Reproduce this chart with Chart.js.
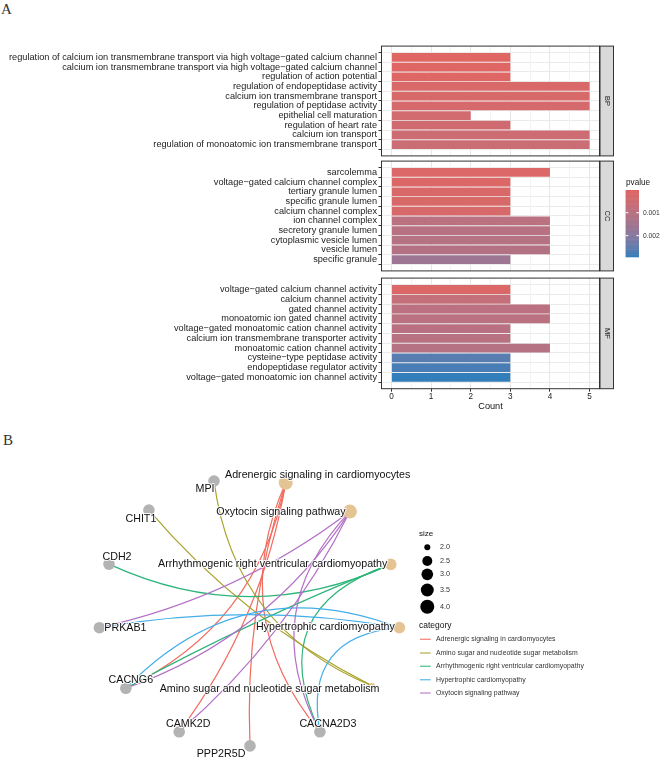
<!DOCTYPE html>
<html><head><meta charset="utf-8">
<script src="https://cdn.jsdelivr.net/npm/chart.js@4.4.1/dist/chart.umd.min.js"></script>
<style>
html,body{margin:0;padding:0;background:#fff;}
body{width:669px;height:760px;position:relative;overflow:hidden;font-family:"Liberation Sans",Arial,sans-serif;}
canvas{position:absolute;left:0;}
.tag{position:absolute;font-family:"Liberation Serif","Times New Roman",serif;font-size:15px;line-height:15px;color:#333;}
</style></head><body>
<div class="tag" style="left:1px;top:2px;">A</div>
<div class="tag" style="left:3px;top:433px;">B</div>
<canvas id="bp" width="669" height="122" style="top:40px"></canvas>
<canvas id="cc" width="669" height="122" style="top:155px"></canvas>
<canvas id="mf" width="669" height="145" style="top:272px"></canvas>
<canvas id="net" width="669" height="330" style="top:430px"></canvas>
<script>
const FONT = '"Liberation Sans", Arial, sans-serif';

// ---------------- Panel A data ----------------
const bpTerms = [
 'regulation of calcium ion transmembrane transport via high voltage\u2212gated calcium channel',
 'calcium ion transmembrane transport via high voltage\u2212gated calcium channel',
 'regulation of action potential',
 'regulation of endopeptidase activity',
 'calcium ion transmembrane transport',
 'regulation of peptidase activity',
 'epithelial cell maturation',
 'regulation of heart rate',
 'calcium ion transport',
 'regulation of monoatomic ion transmembrane transport'];
const bpCount = [3,3,3,5,5,5,2,3,5,5];
const bpPvalue = [0.000013,0.000042,0.000071,0.000187,0.000216,0.000274,0.000419,0.000448,0.000506,0.000593];

const ccTerms = ['sarcolemma','voltage\u2212gated calcium channel complex','tertiary granule lumen','specific granule lumen',
 'calcium channel complex','ion channel complex','secretory granule lumen','cytoplasmic vesicle lumen','vesicle lumen','specific granule'];
const ccCount = [4,3,3,3,3,4,4,4,4,3];
const ccPvalue = [0.000129,0.000158,0.000187,0.000216,0.000245,0.00097,0.001028,0.001086,0.001115,0.001608];

const mfTerms = ['voltage\u2212gated calcium channel activity','calcium channel activity','gated channel activity',
 'monoatomic ion gated channel activity','voltage\u2212gated monoatomic cation channel activity',
 'calcium ion transmembrane transporter activity','monoatomic cation channel activity',
 'cysteine\u2212type peptidase activity','endopeptidase regulator activity','voltage\u2212gated monoatomic ion channel activity'];
const mfCount = [3,3,4,4,3,3,4,3,3,3];
const mfPvalue = [0.000158,0.000738,0.000941,0.00097,0.000999,0.001028,0.001086,0.002623,0.002768,0.002913];

const ontologyLabels = ['BP','CC','MF'];
const countTickLabels = ['0','1','2','3','4','5'];
const countGridValues = [0,0.5,1,1.5,2,2.5,3,3.5,4,4.5,5];
const pvalueLegendTicks = [0.001,0.002];
const pvalueLegendLabels = ['0.001','0.002'];

// ---------------- Panel B data ----------------
const geneNames = ['MPI','CHIT1','CDH2','PRKAB1','CACNG6','CAMK2D','PPP2R5D','CACNA2D3'];
const geneX = [3.80,1.63,0.30,-0.02,0.86,2.64,5.00,7.33];
const geneY = [9.30,8.33,6.53,4.41,2.39,0.94,0.47,0.94];
const categoryNames = ['Adrenergic signaling in cardiomyocytes','Amino sugar and nucleotide sugar metabolism',
 'Arrhythmogenic right ventricular cardiomyopathy','Hypertrophic cardiomyopathy','Oxytocin signaling pathway'];
const categorySize = [4,2,3,3,4];
const categoryX = [6.19,9.07,9.69,9.98,8.33];
const categoryY = [9.24,2.47,6.52,4.41,8.28];
const edgeCategory = [0,0,0,0, 1,1, 2,2,2, 3,3,3, 4,4,4,4];
const edgeGene     = [4,5,6,7, 0,1, 2,4,7, 3,4,7, 4,5,3,7];
const sizeLegendValues = [2.0,2.5,3.0,3.5,4.0];

// ---------------- styles ----------------
const lowColor = '#e06663', highColor = '#327eba';
const categoryColors = ['#F26B5F','#A8A22C','#2DB47A','#43AEE8','#B36FC6'];
const edgeCurvature = [-0.25,-0.12,0.09,0.31, -0.29,-0.10, -0.23,0.03,0.56, 0.087,0.33,0.55, -0.17,-0.10,-0.11,0.36];
const geneLabelDX = [-9,-8,8,26,5,9,-29,8];
const geneLabelDY = [8,9,-7,0,-8,-8,8,-8];
const catLabelDX = [32,-102.5,-118,-74,-69];
const catLabelDY = [-8,3,0,-0.7,0];

// ---------------- colour scale (Lab interpolation) ----------------
function hex2rgb(h){return [1,3,5].map(i=>parseInt(h.substr(i,2),16));}
function s2l(c){c/=255;return c<=0.04045?c/12.92:Math.pow((c+0.055)/1.055,2.4);}
function l2s(c){const v=c<=0.0031308?12.92*c:1.055*Math.pow(c,1/2.4)-0.055;return Math.round(Math.max(0,Math.min(1,v))*255);}
function rgb2lab(rgb){const [r,g,b]=rgb.map(s2l);
 const X=(0.4124564*r+0.3575761*g+0.1804375*b)/0.95047,Y=0.2126729*r+0.7151522*g+0.0721750*b,Z=(0.0193339*r+0.1191920*g+0.9503041*b)/1.08883;
 const f=t=>t>216/24389?Math.cbrt(t):(24389/27*t+16)/116;const fx=f(X),fy=f(Y),fz=f(Z);
 return [116*fy-16,500*(fx-fy),200*(fy-fz)];}
function lab2rgb(lab){const [L,a,b]=lab;const fy=(L+16)/116,fx=fy+a/500,fz=fy-b/200;
 const fi=t=>{const t3=t*t*t;return t3>216/24389?t3:(116*t-16)/(24389/27);};
 const X=fi(fx)*0.95047,Y=fi(fy),Z=fi(fz)*1.08883;
 return [l2s(3.2404542*X-1.5371385*Y-0.4985314*Z),l2s(-0.9692660*X+1.8760108*Y+0.0415560*Z),l2s(0.0556434*X-0.2040259*Y+1.0572252*Z)];}
const allP = bpPvalue.concat(ccPvalue, mfPvalue);
const pMin = Math.min(...allP), pMax = Math.max(...allP);
const labLo = rgb2lab(hex2rgb(lowColor)), labHi = rgb2lab(hex2rgb(highColor));
function pColor(p){const t=Math.max(0,Math.min(1,(p-pMin)/(pMax-pMin)));
 const c=lab2rgb(labLo.map((v,i)=>v+(labHi[i]-v)*t));return `rgb(${c[0]},${c[1]},${c[2]})`;}

// ---------------- facet panel plugin ----------------
function framePlugin(stripText){
 return {id:'frame'+stripText, afterDraw(chart){
  const {ctx, chartArea:a} = chart;
  ctx.save();
  ctx.strokeStyle='#333'; ctx.lineWidth=1;
  ctx.strokeRect(a.left, a.top, a.right-a.left, a.bottom-a.top);
  const sx=a.right+0.5, sw=13.5;
  ctx.fillStyle='#D9D9D9'; ctx.fillRect(sx, a.top, sw, a.bottom-a.top);
  ctx.strokeRect(sx, a.top, sw, a.bottom-a.top);
  ctx.translate(sx+sw/2, (a.top+a.bottom)/2); ctx.rotate(Math.PI/2);
  ctx.fillStyle='#1a1a1a'; ctx.font=`7.5px ${FONT}`; ctx.textAlign='center'; ctx.textBaseline='middle';
  ctx.fillText(stripText,0,0);
  ctx.restore();
 }};
}

const pLegendPlugin = {id:'plegend', afterDraw(chart){
  const ctx=chart.ctx, off=155;
  const bx=625.7, bw=13.3, by=190-off, bh=66.7;
  ctx.save();
  ctx.fillStyle='#1a1a1a'; ctx.font=`8.2px ${FONT}`; ctx.textAlign='left'; ctx.textBaseline='middle';
  ctx.fillText('pvalue', 626, 182.7-off);
  const n=80;
  for(let i=0;i<n;i++){const p=pMin+(pMax-pMin)*(i+0.5)/n; ctx.fillStyle=pColor(p);
    ctx.fillRect(bx, by+bh*i/n, bw, bh/n+0.6);}
  ctx.strokeStyle='#fff'; ctx.lineWidth=1;
  ctx.font=`6.7px ${FONT}`;
  pvalueLegendTicks.forEach((v,i)=>{const yy=by+bh*(v-pMin)/(pMax-pMin);
    ctx.beginPath(); ctx.moveTo(bx,yy); ctx.lineTo(bx+2.7,yy); ctx.moveTo(bx+bw-2.7,yy); ctx.lineTo(bx+bw,yy); ctx.stroke();
    ctx.fillStyle='#333'; ctx.fillText(pvalueLegendLabels[i], 643, yy);});
  ctx.restore();
}};

function panelChart(id, terms, counts, pvals, strip, o, extra){
 return new Chart(document.getElementById(id), {
  type:'bar',
  data:{datasets:[{data:counts.map((c,i)=>({x:c,y:i})), backgroundColor:pvals.map(pColor), borderWidth:0,
     barPercentage:0.9, categoryPercentage:1}]},
  options:{
   indexAxis:'y', responsive:false, animation:false, events:[],
   layout:{autoPadding:false, padding:{left:0,right:669-599.5,top:o.padTop,bottom:o.padBottom}},
   plugins:{legend:{display:false},tooltip:{enabled:false}},
   scales:{
    y:{type:'linear', min:-0.6, max:terms.length-1+0.6, reverse:true,
      afterBuildTicks:s=>{s.ticks=terms.map((_,i)=>({value:i}));},
      afterFit:s=>{s.width=381.5;},
      ticks:{autoSkip:false, callback:v=>terms[v], font:{family:FONT,size:9.2,lineHeight:1}, color:'#222', padding:1.5},
      grid:{color:'#EBEBEB', lineWidth:1, tickColor:'#333', tickLength:3},
      border:{display:false}},
    x:{type:'linear', min:-0.25, max:5.25,
      afterBuildTicks:s=>{s.ticks=countGridValues.map(v=>({value:v}));},
      afterFit:s=>{s.height=o.xHeight;},
      ticks:{display:o.showX, autoSkip:false, maxRotation:0, padding:0,
        callback:v=>Number.isInteger(v)?countTickLabels[v]:'', font:{family:FONT,size:8.2}, color:'#222'},
      grid:{color:c=>Number.isInteger(c.tick&&c.tick.value)?'#E6E6E6':'#F3F3F3',
        tickColor:c=>Number.isInteger(c.tick&&c.tick.value)?'#333':'rgba(0,0,0,0)', tickLength:3, drawTicks:o.showX},
      border:{display:false},
      title:{display:o.showX, text:'Count', font:{family:FONT,size:9.2}, color:'#111', padding:{top:0,bottom:4.8}}}
   }
  },
  plugins:[framePlugin(strip)].concat(extra||[])
 });
}

panelChart('bp', bpTerms, bpCount, bpPvalue, ontologyLabels[0], {padTop:5,padBottom:5.3,xHeight:0,showX:false});
panelChart('cc', ccTerms, ccCount, ccPvalue, ontologyLabels[1], {padTop:5.7,padBottom:4.7,xHeight:0,showX:false},[pLegendPlugin]);
panelChart('mf', mfTerms, mfCount, mfPvalue, ontologyLabels[2], {padTop:5.7,padBottom:0,xHeight:28.3,showX:true});

// ---------------- Panel B: network ----------------
const sMin = Math.min(...categorySize), sMax = Math.max(...categorySize);
const rMin = 3, rMax = 7;
function sizeRadius(s){return rMin + Math.sqrt((s-sMin)/(sMax-sMin))*(rMax-rMin);}

const edgePlugin = {id:'edges', beforeDatasetsDraw(chart){
  const {ctx, scales:{x,y}} = chart;
  ctx.save(); ctx.lineWidth=1.2; ctx.lineCap='round';
  edgeCategory.forEach((c,k)=>{
    const g=edgeGene[k];
    const x0=x.getPixelForValue(categoryX[c]), y0=y.getPixelForValue(categoryY[c]);
    const x1=x.getPixelForValue(geneX[g]), y1=y.getPixelForValue(geneY[g]);
    const dx=x1-x0, dy=y1-y0, cv=edgeCurvature[k];
    const cx=(x0+x1)/2 - cv*dy, cy=(y0+y1)/2 + cv*dx;
    ctx.strokeStyle=categoryColors[c];
    ctx.beginPath(); ctx.moveTo(x0,y0); ctx.quadraticCurveTo(cx,cy,x1,y1); ctx.stroke();
  });
  ctx.restore();
}};

function haloText(ctx, t, x, y){
  ctx.lineWidth=2; ctx.strokeStyle='rgba(255,255,255,0.9)'; ctx.lineJoin='round';
  ctx.strokeText(t,x,y); ctx.fillText(t,x,y);
}

const labelPlugin = {id:'labels', afterDatasetsDraw(chart){
  const {ctx, scales:{x,y}} = chart;
  ctx.save(); ctx.font=`10.7px ${FONT}`; ctx.fillStyle='#111'; ctx.textAlign='center'; ctx.textBaseline='middle';
  geneNames.forEach((n,i)=>haloText(ctx, n, x.getPixelForValue(geneX[i])+geneLabelDX[i], y.getPixelForValue(geneY[i])+geneLabelDY[i]));
  categoryNames.forEach((n,i)=>haloText(ctx, n, x.getPixelForValue(categoryX[i])+catLabelDX[i], y.getPixelForValue(categoryY[i])+catLabelDY[i]));
  ctx.restore();
}};

const netLegendPlugin = {id:'netlegend', afterDraw(chart){
  const ctx=chart.ctx, off=430;
  ctx.save(); ctx.textAlign='left'; ctx.textBaseline='middle'; ctx.fillStyle='#111';
  ctx.font=`8px ${FONT}`; ctx.fillText('size', 419, 533.3-off);
  const sy=[547.3,561,574.3,590,606.7];
  sizeLegendValues.forEach((s,i)=>{
    ctx.fillStyle='#000'; ctx.beginPath(); ctx.arc(427.3, sy[i]-off, sizeRadius(s), 0, Math.PI*2); ctx.fill();
    ctx.fillStyle='#333'; ctx.font=`7.2px ${FONT}`; ctx.fillText(s.toFixed(1), 440, sy[i]-off);
  });
  ctx.fillStyle='#111'; ctx.font=`8.5px ${FONT}`; ctx.fillText('category', 419, 625.7-off);
  const cy=[639.3,653,666.3,679.7,693];
  categoryNames.forEach((n,i)=>{
    ctx.globalAlpha=0.75; ctx.strokeStyle=categoryColors[i]; ctx.lineWidth=1.4;
    ctx.beginPath(); ctx.moveTo(420, cy[i]-off); ctx.lineTo(430.7, cy[i]-off); ctx.stroke();
    ctx.globalAlpha=1; ctx.fillStyle='#333'; ctx.font=`6.9px ${FONT}`; ctx.fillText(n, 436, cy[i]-off);
  });
  ctx.restore();
}};

new Chart(document.getElementById('net'), {
  type:'scatter',
  data:{datasets:[
    {data:geneX.map((v,i)=>({x:v,y:geneY[i]})), pointRadius:5.8, pointBackgroundColor:'#B3B3B3', pointBorderWidth:0, clip:false},
    {data:categoryX.map((v,i)=>({x:v,y:categoryY[i]})), pointRadius:categorySize.map(sizeRadius), pointBackgroundColor:'#E5C494', pointBorderWidth:0, clip:false}
  ]},
  options:{responsive:false, animation:false, events:[],
    layout:{autoPadding:false, padding:0},
    plugins:{legend:{display:false},tooltip:{enabled:false}},
    scales:{x:{type:'linear',display:false,min:-100/30,max:569/30},
            y:{type:'linear',display:false,min:0,max:11}}},
  plugins:[edgePlugin,labelPlugin,netLegendPlugin]
});
</script></body></html>
